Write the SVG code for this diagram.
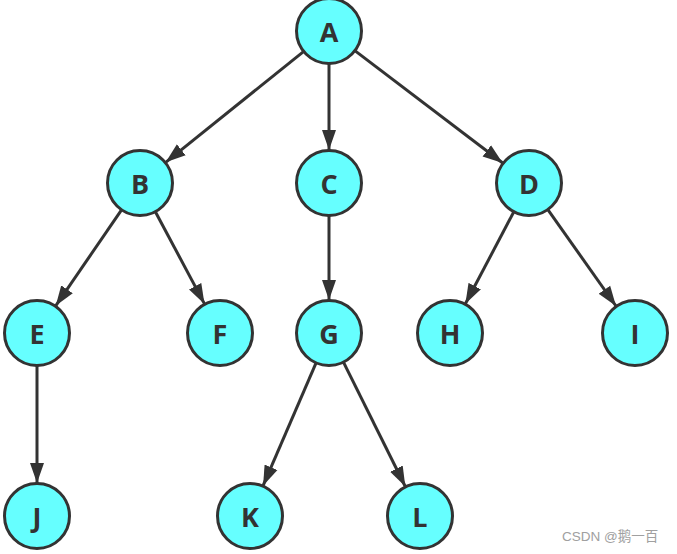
<svg xmlns="http://www.w3.org/2000/svg" width="677" height="554" viewBox="0 0 677 554">
<style>
.n circle{fill:#66ffff;stroke:#333;stroke-width:3}
.n text{font-family:"Open Sans","Noto Sans","DejaVu Sans",sans-serif;font-weight:bold;font-size:27px;fill:#333;text-anchor:middle;dominant-baseline:central}
#edges line{stroke:#333;stroke-width:3;marker-end:url(#arr)}
.wm{font-family:"Liberation Sans","Noto Sans CJK SC",sans-serif;font-size:13.5px;fill:#a0a0a0}
</style>
<defs>
<marker id="arr" markerUnits="userSpaceOnUse" markerWidth="21" markerHeight="15" refX="20" refY="7.5" orient="auto" viewBox="0 0 21 15">
<path d="M0,0.5 L20,7.5 L0,14.5 z" fill="#333"/>
</marker>
</defs>
<rect width="677" height="554" fill="#fff"/>
<g id="edges">
<line x1="304.1" y1="51.1" x2="165.7" y2="162.3"/>
<line x1="329" y1="63" x2="329" y2="150"/>
<line x1="354.5" y1="50.4" x2="502.7" y2="163"/>
<line x1="121.9" y1="209.4" x2="55.7" y2="305.8"/>
<line x1="155.1" y1="211.2" x2="204.5" y2="303.9"/>
<line x1="329" y1="215" x2="329" y2="300"/>
<line x1="514.1" y1="211.3" x2="465.4" y2="303.8"/>
<line x1="547.5" y1="209.1" x2="616" y2="306"/>
<line x1="37" y1="365" x2="37" y2="483"/>
<line x1="316.3" y1="362.4" x2="263.1" y2="485.7"/>
<line x1="343.2" y1="361.6" x2="405.3" y2="486.5"/>
</g>
<g id="A" class="n"><circle cx="329" cy="31" r="32.5"/><text x="329" y="31">A</text></g>
<g id="B" class="n"><circle cx="140" cy="183" r="32.5"/><text x="140" y="183">B</text></g>
<g id="C" class="n"><circle cx="329" cy="183" r="32.5"/><text x="329" y="183">C</text></g>
<g id="D" class="n"><circle cx="529" cy="183" r="32.5"/><text x="529" y="183">D</text></g>
<g id="E" class="n"><circle cx="37" cy="333" r="32.5"/><text x="37" y="333">E</text></g>
<g id="F" class="n"><circle cx="220" cy="333" r="32.5"/><text x="220" y="333">F</text></g>
<g id="G" class="n"><circle cx="329" cy="333" r="32.5"/><text x="329" y="333">G</text></g>
<g id="H" class="n"><circle cx="450" cy="333" r="32.5"/><text x="450" y="333">H</text></g>
<g id="I" class="n"><circle cx="635" cy="333" r="32.5"/><text x="635" y="333">I</text></g>
<g id="J" class="n"><circle cx="37" cy="516" r="32.5"/><text x="37" y="516">J</text></g>
<g id="K" class="n"><circle cx="250" cy="516" r="32.5"/><text x="250" y="516">K</text></g>
<g id="L" class="n"><circle cx="420" cy="516" r="32.5"/><text x="420" y="516">L</text></g>
<text class="wm" x="562" y="541">CSDN @鹅一百</text>
</svg>
